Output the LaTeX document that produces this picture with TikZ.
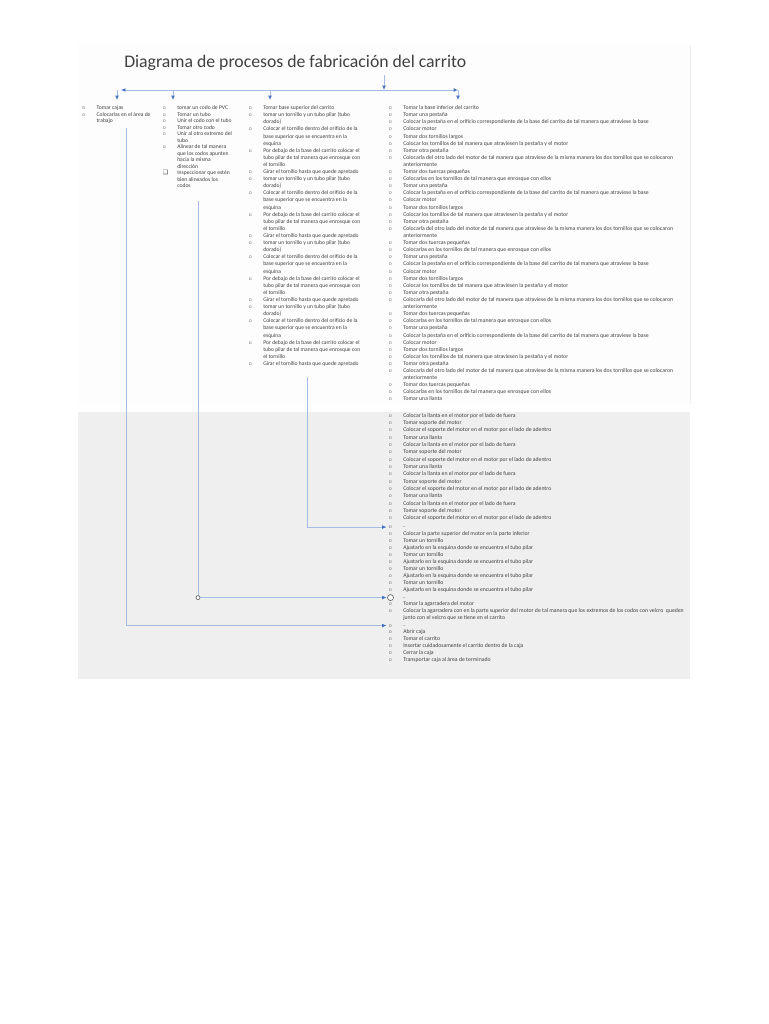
\documentclass[tikz,border=0pt]{standalone}
\usepackage{fontspec}
\setmainfont{Carlito}
\newfontfamily\simbolo{DejaVu Sans}
\usetikzlibrary{arrows.meta}
\definecolor{texto}{HTML}{404040}
\definecolor{vineta}{HTML}{7F7F7F}
\definecolor{enlace}{HTML}{A4BBE3}
\definecolor{punta}{HTML}{4472C4}
\definecolor{fondo}{HTML}{EFEFEF}
\definecolor{hoja}{HTML}{FDFDFD}
\newcommand\vin{\textcolor{vineta}{o}}
\newcommand\paso[1]{\vin & #1\\}
\newcommand\sigue[1]{& #1\\}
\newcommand\lista[1]{\begin{tabular}[t]{@{}p{10.9pt}@{}l@{}}#1\end{tabular}}
\newcommand\pilar{%
  \paso{tomar un tornillo y un tubo pilar (tubo}
  \sigue{dorado)}
  \paso{Colocar el tornillo dentro del orificio de la}
  \sigue{base superior que se encuentra en la}
  \sigue{esquina}
  \paso{Por debajo de la base del carrito colocar el}
  \sigue{tubo pilar de tal manera que enrosque con}
  \sigue{el tornillo}
  \paso{Girar el tornillo hasta que quede apretado}}
\newcommand\pestana{%
  \paso{Tomar una pestaña}
  \paso{Colocar la pestaña en el orificio correspondiente de la base del carrito de tal manera que atraviese la base}
  \paso{Colocar motor}
  \paso{Tomar dos tornillos largos}
  \paso{Colocar los tornillos de tal manera que atraviesen la pestaña y el motor}
  \paso{Tomar otra pestaña}
  \paso{Colocarla del otro lado del motor de tal manera que atraviese de la misma manera los dos tornillos que se colocaron}
  \sigue{anteriormente}
  \paso{Tomar dos tuercas pequeñas}
  \paso{Colocarlas en los tornillos de tal manera que enrosque con ellos}}
\newcommand\llanta{%
  \paso{Colocar la llanta en el motor por el lado de fuera}
  \paso{Tomar soporte del motor}
  \paso{Colocar el soporte del motor en el motor por el lado de adentro}}
\newcommand\ajuste{%
  \paso{Tomar un tornillo}
  \paso{Ajustarlo en la esquina donde se encuentra el tubo pilar}}
\tikzset{
  pasos/.style={anchor=base west, inner sep=0pt, text=texto},
  chico/.style={font=\fontsize{4.2}{#1}\selectfont},
  ancho/.style={font=\fontsize{4.3}{#1}\selectfont},
  linea/.style={draw=enlace, line width=0.6pt},
  flecha/.style={-{Latex[length=3.2pt,width=2.8pt,color=punta]}},
  asa/.style={circle, draw=black!60, fill=white, line width=0.5pt, inner sep=0pt, minimum size=#1},
  asa/.default=3pt
}
\begin{document}
\begin{tikzpicture}[x=0.75pt,y=-0.75pt]
  \useasboundingbox[fill=white] (0,0) rectangle (768,1024);
  \fill[hoja] (78,45) rectangle (690,404);
  \draw[black!7] (690,45) -- (690,404);
  \fill[fondo] (78,412) rectangle (690,679);

  \node[pasos, font=\fontsize{13.3}{15}\selectfont] (titulo) at (124,67.3)
    {Diagrama de procesos de fabricación del carrito};

  \node[pasos, chico=4.9pt] (cajas) at (81.8,109.6) {\lista{
    \paso{Tomar cajas}
    \paso{Colocarlas en el área de}
    \sigue{trabajo}}};
  \node[pasos, chico=4.9pt] (codos) at (162.5,109.6) {\lista{
    \paso{tomar un codo de PVC}
    \paso{Tomar un tubo}
    \paso{Unir el codo con el tubo}
    \paso{Tomar otro codo}
    \paso{Unir al otro extremo del}
    \sigue{tubo}
    \paso{Alinear de tal manera}
    \sigue{que los codos apunten}
    \sigue{hacia la misma}
    \sigue{dirección}
    {\simbolo\fontsize{4.6}{4.9}\selectfont ❑} & Inspeccionar que estén\\
    \sigue{bien alineados los}
    \sigue{codos}}};
  \node[pasos, chico=5.33pt] (superior) at (248.5,109.6) {\lista{
    \paso{Tomar base superior del carrito}
    \pilar \pilar \pilar \pilar}};
  \node[pasos, ancho=5.33pt] (inferior) at (388.5,109.6) {\lista{
    \paso{Tomar la base inferior del carrito}
    \pestana \pestana \pestana \pestana
    \paso{Tomar una llanta}}};

  \node[pasos, ancho=5.5pt] (llantas) at (388.5,417) {\lista{
    \llanta \paso{Tomar una llanta}
    \llanta \paso{Tomar una llanta}
    \llanta \paso{Tomar una llanta}
    \llanta}};
  \node[pasos, ancho=5.33pt] (guionA) at (388.5,528.5) {\lista{\paso{-}}};
  \node[pasos, ancho=5.33pt] (tapa) at (388.5,535) {\lista{
    \paso{Colocar la parte superior del motor en la parte inferior}
    \ajuste \ajuste \ajuste \ajuste}};
  \node[pasos, ancho=5.33pt] (guionB) at (388.5,599) {\lista{\paso{-}}};
  \node[pasos, ancho=5.33pt] (agarradera) at (388.5,605.3) {\lista{
    \paso{Tomar la agarradera del motor}
    \paso{Colocar la agarradera con en la parte superior del motor de tal manera que los extremos de los codos con velcro \ queden}
    \sigue{junto con el velcro que se tiene en el carrito}}};
  \node[pasos, ancho=5.33pt] (guionC) at (388.5,627) {\lista{\paso{-}}};
  \node[pasos, ancho=5.33pt] (caja) at (388.5,633.3) {\lista{
    \paso{Abrir caja}
    \paso{Tomar el carrito}
    \paso{Insertar cuidadosamente el carrito dentro de la caja}
    \paso{Cerrar la caja}
    \paso{Transportar caja al área de terminado}}};

  \coordinate (salida) at (384,75);
  \coordinate (bus) at (384,90);
  \coordinate (busI) at (121,90);
  \coordinate (busD) at (458,90);
  \draw[linea, flecha] (salida) -- (bus);
  \draw[linea, {Latex[length=3.2pt,width=2.8pt,color=punta]}-{Latex[length=3.2pt,width=2.8pt,color=punta]}] (busI) -- (busD);
  \foreach \x in {117,173,270,458}
    \draw[linea, flecha] (\x,90) -- (\x,100);

  \coordinate (bajaA) at (307,377);
  \coordinate (bajaB) at (198,201);
  \coordinate (bajaC) at (126,128);
  \draw[linea, flecha, shorten >=1.5pt] (bajaA) |- (guionA.west);
  \draw[linea, flecha, shorten >=1.5pt] (bajaB) |- coordinate[pos=0.5] (codoB) (guionB.west);
  \draw[linea, flecha, shorten >=1.5pt] (bajaC) |- (guionC.west);
  \node[asa] (asaB) at (codoB) {};
  \node[asa=4.5pt] (asaF) at ([xshift=1.5pt]guionB.west) {};
\end{tikzpicture}
\end{document}
